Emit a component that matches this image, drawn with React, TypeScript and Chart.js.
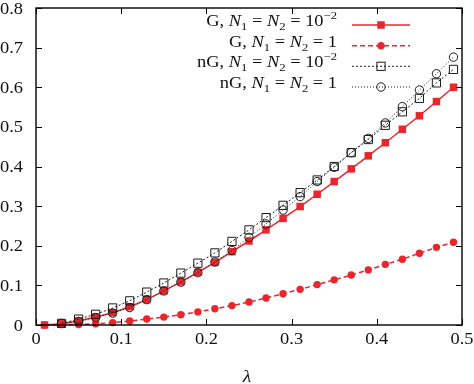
import React, { useEffect, useRef } from "react";
import { Chart, registerables } from "chart.js";
Chart.register(...registerables);

// ---- data ----
const lambdaG = [0.01, 0.03, 0.05, 0.07, 0.09, 0.11, 0.13, 0.15, 0.17, 0.19, 0.21, 0.23, 0.25, 0.27, 0.29, 0.31, 0.33, 0.35, 0.37, 0.39, 0.41, 0.43, 0.45, 0.47, 0.49];
const lambdaNG = [0.03, 0.05, 0.07, 0.09, 0.11, 0.13, 0.15, 0.17, 0.19, 0.21, 0.23, 0.25, 0.27, 0.29, 0.31, 0.33, 0.35, 0.37, 0.39, 0.41, 0.43, 0.45, 0.47, 0.49];
const gSmallN = [0, 0.003, 0.010, 0.020, 0.031, 0.046, 0.064, 0.086, 0.109, 0.133, 0.158, 0.185, 0.212, 0.240, 0.269, 0.299, 0.330, 0.362, 0.394, 0.427, 0.460, 0.494, 0.528, 0.564, 0.600];
const gUnitN = [0, 0.001, 0.001, 0.003, 0.006, 0.010, 0.015, 0.020, 0.026, 0.033, 0.041, 0.049, 0.058, 0.068, 0.079, 0.090, 0.102, 0.114, 0.126, 0.139, 0.153, 0.166, 0.181, 0.196, 0.209];
const ngSmallN = [0.004, 0.015, 0.027, 0.043, 0.061, 0.083, 0.106, 0.131, 0.156, 0.182, 0.211, 0.240, 0.271, 0.302, 0.334, 0.366, 0.400, 0.435, 0.468, 0.504, 0.538, 0.572, 0.611, 0.645];
const ngUnitN = [0.004, 0.009, 0.019, 0.030, 0.044, 0.064, 0.086, 0.108, 0.132, 0.159, 0.188, 0.221, 0.255, 0.290, 0.324, 0.362, 0.398, 0.435, 0.471, 0.510, 0.551, 0.593, 0.634, 0.676];

const xTicks = [0, 0.1, 0.2, 0.3, 0.4, 0.5];
const xTickLabels = ["0", "0.1", "0.2", "0.3", "0.4", "0.5"];
const yTicks = [0, 0.1, 0.2, 0.3, 0.4, 0.5, 0.6, 0.7, 0.8];
const yTickLabels = ["0", "0.1", "0.2", "0.3", "0.4", "0.5", "0.6", "0.7", "0.8"];
const xTitle = "λ";
const seriesPrefix = ["G", "G", "nG", "nG"];
const seriesValue = ["10", "1", "10", "1"];
const seriesExp = ["−2", "", "−2", ""];

const RED = "#e8262c";
const BLACK = "#1a1a1a";
const FONT = '"Liberation Serif", "DejaVu Serif", serif';
const SX = 1.15;

type Seg = { t: string; italic?: boolean; size: number; dy: number };

function drawScaled(ctx: CanvasRenderingContext2D, text: string, x: number, y: number, font: string, align: "left" | "right" | "center") {
  ctx.save();
  ctx.font = font;
  const w = ctx.measureText(text).width * SX;
  let x0 = x;
  if (align === "right") x0 = x - w;
  else if (align === "center") x0 = x - w / 2;
  ctx.translate(x0, y);
  ctx.scale(SX, 1);
  ctx.textAlign = "left";
  ctx.textBaseline = "alphabetic";
  ctx.fillText(text, 0, 0);
  ctx.restore();
}

function drawRich(ctx: CanvasRenderingContext2D, segs: Seg[], rightX: number, baseY: number) {
  const fontOf = (s: Seg) => `${s.italic ? "italic " : ""}${s.size}px ${FONT}`;
  let total = 0;
  for (const s of segs) {
    ctx.font = fontOf(s);
    total += ctx.measureText(s.t).width * SX;
  }
  let x = rightX - total;
  for (const s of segs) {
    ctx.save();
    ctx.font = fontOf(s);
    const w = ctx.measureText(s.t).width * SX;
    ctx.translate(x, baseY + s.dy);
    ctx.scale(SX, 1);
    ctx.textBaseline = "alphabetic";
    ctx.textAlign = "left";
    ctx.fillText(s.t, 0, 0);
    ctx.restore();
    x += w;
  }
}

function marker(ctx: CanvasRenderingContext2D, kind: number, x: number, y: number) {
  ctx.save();
  if (kind === 0) {
    ctx.fillStyle = RED;
    const h = 5.3 * Math.SQRT1_2;
    ctx.fillRect(x - h, y - h, 2 * h, 2 * h);
  } else if (kind === 1) {
    ctx.fillStyle = RED;
    ctx.beginPath();
    ctx.arc(x, y, 3.7, 0, Math.PI * 2);
    ctx.fill();
  } else if (kind === 2) {
    ctx.strokeStyle = BLACK;
    ctx.lineWidth = 1;
    const h = 5.8 * Math.SQRT1_2;
    ctx.strokeRect(x - h, y - h, 2 * h, 2 * h);
  } else {
    ctx.strokeStyle = BLACK;
    ctx.lineWidth = 1;
    ctx.beginPath();
    ctx.arc(x, y, 4.2, 0, Math.PI * 2);
    ctx.stroke();
  }
  ctx.restore();
}

const decorPlugin = {
  id: "decor",
  afterDraw(chart: any) {
    const ctx: CanvasRenderingContext2D = chart.ctx;
    const { left, right, top, bottom } = chart.chartArea;
    const xs = chart.scales.x;
    const ys = chart.scales.y;
    ctx.save();
    ctx.strokeStyle = "#000";
    ctx.fillStyle = "#000";
    ctx.lineWidth = 1;
    // ticks
    ctx.beginPath();
    xTicks.forEach((v) => {
      const px = Math.round(xs.getPixelForValue(v)) + 0.5;
      ctx.moveTo(px, bottom);
      ctx.lineTo(px, bottom - 6);
      ctx.moveTo(px, top);
      ctx.lineTo(px, top + 6);
    });
    yTicks.forEach((v) => {
      const py = Math.round(ys.getPixelForValue(v)) + 0.5;
      ctx.moveTo(left, py);
      ctx.lineTo(left + 6, py);
      ctx.moveTo(right, py);
      ctx.lineTo(right - 6, py);
    });
    ctx.stroke();
    // frame
    ctx.lineWidth = 1.4;
    ctx.strokeRect(left, top, right - left, bottom - top);
    // tick labels
    const tf = `16px ${FONT}`;
    ctx.fillStyle = "#111";
    xTicks.forEach((v, i) => {
      drawScaled(ctx, xTickLabels[i], xs.getPixelForValue(v), bottom + 18.5, tf, "center");
    });
    yTicks.forEach((v, i) => {
      drawScaled(ctx, yTickLabels[i], left - 13, ys.getPixelForValue(v) + 5.5, tf, "right");
    });
    // axis title
    drawScaled(ctx, xTitle, (left + right) / 2 - 2, bottom + 57, `italic 17px ${FONT}`, "center");
    // legend
    const rows = [25, 45.7, 66.3, 87];
    rows.forEach((ry, i) => {
      const segs: Seg[] = [
        { t: seriesPrefix[i] + ", ", size: 16, dy: 0 },
        { t: "N", italic: true, size: 16, dy: 0 },
        { t: "1", size: 11, dy: 4 },
        { t: " = ", size: 16, dy: 0 },
        { t: "N", italic: true, size: 16, dy: 0 },
        { t: "2", size: 11, dy: 4 },
        { t: " = ", size: 16, dy: 0 },
        { t: seriesValue[i], size: 16, dy: 0 },
      ];
      if (seriesExp[i]) segs.push({ t: seriesExp[i], size: 11, dy: -7 });
      ctx.fillStyle = "#111";
      drawRich(ctx, segs, 337, ry + 1);
      // sample line
      ctx.save();
      const isRed = i < 2;
      ctx.strokeStyle = isRed ? RED : BLACK;
      ctx.lineWidth = isRed ? 1.5 : 1;
      ctx.setLineDash(i === 0 ? [] : i === 1 ? [5, 3] : i === 2 ? [2, 2] : [1, 2]);
      ctx.beginPath();
      ctx.moveTo(352, ry);
      ctx.lineTo(410, ry);
      ctx.stroke();
      ctx.restore();
      marker(ctx, i, 381, ry);
    });
    ctx.restore();
  },
};

export default function App() {
  const ref = useRef<HTMLCanvasElement | null>(null);
  useEffect(() => {
    if (!ref.current) return;
    const toPts = (xsArr: number[], ysArr: number[]) => xsArr.map((x, i) => ({ x, y: ysArr[i] }));
    const chart = new Chart(ref.current, {
      type: "line",
      data: {
        datasets: [
          {
            label: "G, N1 = N2 = 10^-2",
            data: toPts(lambdaG, gSmallN),
            borderColor: RED,
            backgroundColor: RED,
            borderWidth: 1.5,
            pointStyle: "rect",
            pointRadius: 5.3,
            pointBorderWidth: 0,
            pointBackgroundColor: RED,
            order: 4,
            clip: false,
          },
          {
            label: "G, N1 = N2 = 1",
            data: toPts(lambdaG, gUnitN),
            borderColor: RED,
            backgroundColor: RED,
            borderWidth: 1.5,
            borderDash: [5, 3],
            pointStyle: "circle",
            pointRadius: 3.7,
            pointBorderWidth: 0,
            pointBackgroundColor: RED,
            order: 3,
            clip: false,
          },
          {
            label: "nG, N1 = N2 = 10^-2",
            data: toPts(lambdaNG, ngSmallN),
            borderColor: BLACK,
            borderWidth: 1,
            borderDash: [2, 2],
            pointStyle: "rect",
            pointRadius: 5.8,
            pointBorderWidth: 1,
            pointBorderColor: BLACK,
            pointBackgroundColor: "rgba(0,0,0,0)",
            order: 2,
            clip: false,
          },
          {
            label: "nG, N1 = N2 = 1",
            data: toPts(lambdaNG, ngUnitN),
            borderColor: BLACK,
            borderWidth: 1,
            borderDash: [1, 2],
            pointStyle: "circle",
            pointRadius: 4.2,
            pointBorderWidth: 1,
            pointBorderColor: BLACK,
            pointBackgroundColor: "rgba(0,0,0,0)",
            order: 1,
            clip: false,
          },
        ] as any,
      },
      options: {
        animation: false,
        responsive: false,
        maintainAspectRatio: false,
        layout: { padding: { left: 36, top: 8, right: 12, bottom: 59 } },
        plugins: { legend: { display: false }, tooltip: { enabled: false } },
        elements: { line: { tension: 0 } },
        scales: {
          x: { type: "linear", min: 0, max: 0.5, display: false },
          y: { type: "linear", min: 0, max: 0.8, display: false },
        },
      },
      plugins: [decorPlugin],
    });
    return () => chart.destroy();
  }, []);
  return (
    <div style={{ position: "fixed", left: 0, top: 0, width: 474, height: 384, background: "#fff" }}>
      <canvas ref={ref} width={474} height={384} style={{ display: "block" }} />
    </div>
  );
}
